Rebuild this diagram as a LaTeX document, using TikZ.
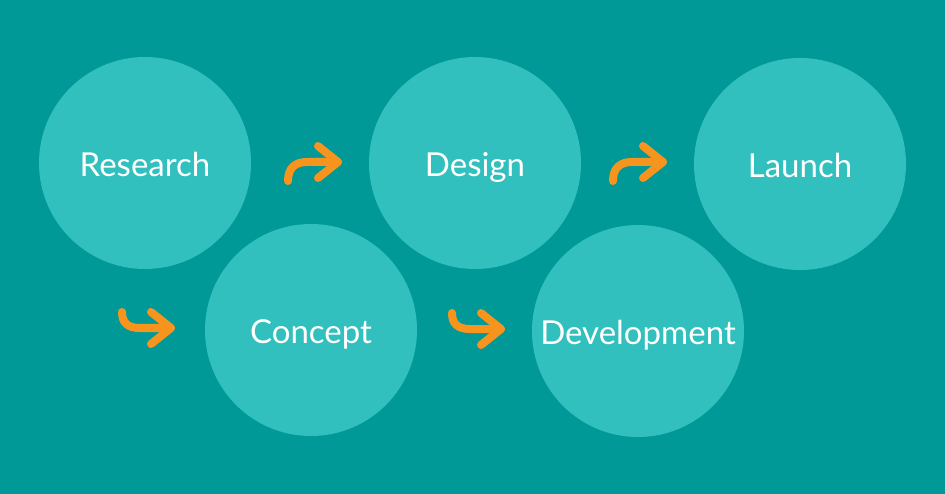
\documentclass[tikz,border=0pt]{standalone}
\usepackage{fontspec}
\setmainfont{Lato}
\definecolor{bgteal}{RGB}{0,153,151}
\definecolor{discteal}{RGB}{49,192,189}
\definecolor{arroworange}{RGB}{247,148,30}
\tikzset{every picture/.style={line width=0.75pt}}
\tikzset{
	stage/.style={circle, fill=discteal, draw=none, minimum size=212, inner sep=0pt,
		text=white, font=\fontsize{33}{40}\selectfont, text height=27, text depth=0pt},
	flow/.style={draw=arroworange, line width=8, line cap=round, line join=round},
	uparrow/.pic={
		\draw[flow] (-50,-19) .. controls (-50,-6) and (-43,0) .. (-31,0) -- (0,0);
		\draw[flow] (-20,16) -- (0,0) -- (-20,-16);},
	downarrow/.pic={
		\draw[flow] (-49,16) .. controls (-49,5) and (-43,0) .. (-31,0) -- (0,0);
		\draw[flow] (-20,16) -- (0,0) -- (-20,-16);}}

\begin{document}
\begin{tikzpicture}[x=1pt,y=1pt,yscale=-1,xscale=1]
	%Background
	\fill[bgteal] (0,0) rectangle (945,494);
	\useasboundingbox (0,0) rectangle (945,494);

	%Stages, top row
	\node[stage] (research) at (145,163) {Research};
	\node[stage] (design) at (475,163) {Design};
	\node[stage] (launch) at (800,164) {Launch};
	%Stages, bottom row
	\node[stage] (concept) at (311,330) {Concept};
	\node[stage] (development) at (638,331) {Development};

	%Arrows
	\pic at (338,162) {uparrow};
	\pic at (663,162) {uparrow};
	\pic at (171,328) {downarrow};
	\pic at (501,329) {downarrow};

\end{tikzpicture}
\end{document}
